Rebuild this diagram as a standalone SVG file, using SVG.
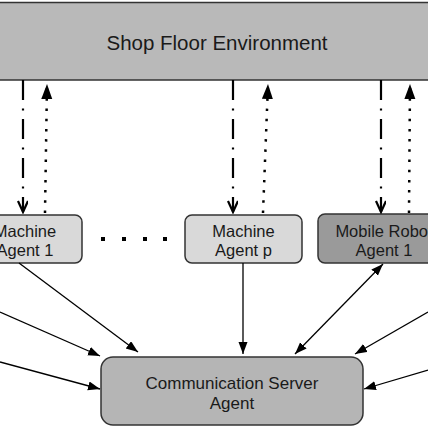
<svg xmlns="http://www.w3.org/2000/svg" width="428" height="428" viewBox="0 0 428 428">
<defs>
<style>
.box{stroke:#333;stroke-width:1.5}
.lbl{font-family:"Liberation Sans",Arial,sans-serif;fill:#1a1a1a;text-anchor:middle}
.dd{stroke:#000;stroke-width:2.2;fill:none;stroke-dasharray:20 8.5 2 8.5}
.dot{stroke:#000;stroke-width:2.5;fill:none;stroke-dasharray:2.5 7.7}
.sol{stroke:#000;stroke-width:1.3;fill:none}
</style>
<marker id="arr" markerUnits="userSpaceOnUse" markerWidth="14" markerHeight="10" refX="12" refY="4.5" orient="auto-start-reverse" viewBox="0 0 14 10">
<path d="M0,0 L12,4.5 L0,9 z" fill="#000"/>
</marker>
<marker id="vee" markerUnits="userSpaceOnUse" markerWidth="14" markerHeight="12" refX="12" refY="5" orient="auto" viewBox="0 0 14 12">
<path d="M1,0 L12,5 L1,10" fill="none" stroke="#000" stroke-width="2.2"/>
</marker>
<marker id="up" markerUnits="userSpaceOnUse" markerWidth="17" markerHeight="13" refX="15" refY="5.5" orient="auto" viewBox="0 0 17 13">
<path d="M0,0 L15,5.5 L0,11 z" fill="#000"/>
</marker>
</defs>

<g id="shop-floor">
<rect class="box" x="-10" y="2.5" width="448" height="77.5" fill="#b9b9b9"/>
<text class="lbl" x="217" y="50" font-size="20.5">Shop Floor Environment</text>
</g>

<g id="machine-agent-1">
<rect class="box" x="-32" y="215" width="114" height="48" rx="7" fill="#d9d9d9"/>
<text class="lbl" x="25" y="237" font-size="16.5">Machine</text>
<text class="lbl" x="25" y="256" font-size="16.5">Agent 1</text>
</g>

<g id="ellipsis">
<rect x="101" y="237" width="4" height="4" fill="#000"/>
<rect x="122" y="237" width="4" height="4" fill="#000"/>
<rect x="143" y="237" width="4" height="4" fill="#000"/>
<rect x="163" y="237" width="4" height="4" fill="#000"/>
</g>

<g id="machine-agent-p">
<rect class="box" x="185" y="215" width="117" height="48" rx="7" fill="#d9d9d9"/>
<text class="lbl" x="243.5" y="237" font-size="16.5">Machine</text>
<text class="lbl" x="243.5" y="256" font-size="16.5">Agent p</text>
</g>

<g id="mobile-robot-agent-1">
<rect class="box" x="318" y="214" width="132" height="49" rx="7" fill="#9a9a9a"/>
<text class="lbl" x="384" y="237" font-size="16.5">Mobile Robot</text>
<text class="lbl" x="384" y="256" font-size="16.5">Agent 1</text>
</g>

<g id="communication-server-agent">
<rect class="box" x="101" y="357" width="262" height="68" rx="12" fill="#b5b5b5"/>
<text class="lbl" x="232" y="389" font-size="17">Communication Server</text>
<text class="lbl" x="232" y="409" font-size="17">Agent</text>
</g>

<g id="connectors">
<line class="dd" x1="23" y1="80" x2="23" y2="212" marker-end="url(#vee)"/>
<line class="dd" x1="233" y1="80" x2="233" y2="212" marker-end="url(#vee)"/>
<line class="dd" x1="381" y1="80" x2="381" y2="212" marker-end="url(#vee)"/>
<line class="dot" x1="45" y1="213" x2="47" y2="84" marker-end="url(#up)"/>
<line class="dot" x1="263" y1="213" x2="268" y2="84" marker-end="url(#up)"/>
<line class="dot" x1="409" y1="213" x2="410" y2="84" marker-end="url(#up)"/>

<line class="sol" x1="0" y1="362" x2="100" y2="389" marker-end="url(#arr)"/>
<line class="sol" x1="0" y1="312" x2="100" y2="356" marker-end="url(#arr)"/>
<line class="sol" x1="19" y1="263" x2="138" y2="352" marker-end="url(#arr)"/>
<line class="sol" x1="243" y1="263" x2="243" y2="354" marker-end="url(#arr)"/>
<line class="sol" x1="383" y1="264" x2="295" y2="354" marker-start="url(#arr)" marker-end="url(#arr)"/>
<line class="sol" x1="428" y1="312" x2="355" y2="354" marker-end="url(#arr)"/>
<line class="sol" x1="428" y1="370" x2="364" y2="389" marker-end="url(#arr)"/>
</g>
</svg>
